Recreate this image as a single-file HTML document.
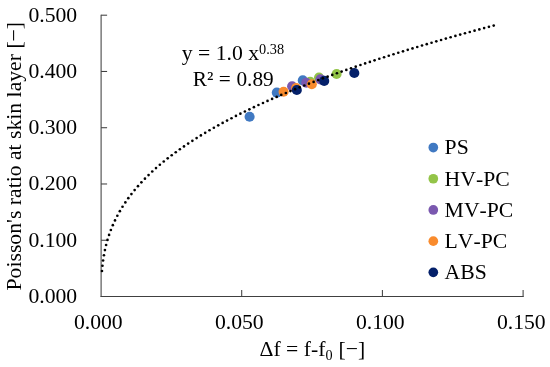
<!DOCTYPE html>
<html><head><meta charset="utf-8"><title>chart</title>
<style>html,body{margin:0;padding:0;background:#fff;}svg{display:block}text{font-kerning:none;font-family:"Liberation Serif", "Times New Roman", serif;font-size:21.70px;fill:#000}</style></head><body>
<svg width="550" height="367" viewBox="0 0 550 367">
<rect width="550" height="367" fill="#fff"/>
<g stroke="#404040" stroke-width="1.05" fill="none">
<path d="M101.10 14.7 V297.00"/>
<path d="M100.60 296.50 H523.75"/>
<path d="M101.10 240.24 h6.0"/>
<path d="M101.10 183.98 h6.0"/>
<path d="M101.10 127.72 h6.0"/>
<path d="M101.10 71.46 h6.0"/>
<path d="M101.10 15.20 h6.0"/>
<path d="M241.70 296.50 v-6.5"/>
<path d="M382.40 296.50 v-6.5"/>
<path d="M523.10 296.50 v-6.5"/>
</g>
<circle cx="249.6" cy="116.8" r="5.05" fill="#4079C2"/>
<circle cx="276.8" cy="92.6" r="5.05" fill="#4079C2"/>
<circle cx="302.8" cy="80.4" r="5.05" fill="#4079C2"/>
<circle cx="310.1" cy="81.7" r="5.05" fill="#93C448"/>
<circle cx="319.0" cy="77.6" r="5.05" fill="#93C448"/>
<circle cx="336.6" cy="74.0" r="5.05" fill="#93C448"/>
<circle cx="292.1" cy="86.2" r="5.05" fill="#7A58AF"/>
<circle cx="306.2" cy="82.8" r="5.05" fill="#7A58AF"/>
<circle cx="320.4" cy="79.4" r="5.05" fill="#7A58AF"/>
<circle cx="283.6" cy="91.8" r="5.05" fill="#F98B2D"/>
<circle cx="296.1" cy="88.1" r="5.05" fill="#F98B2D"/>
<circle cx="311.8" cy="84.3" r="5.05" fill="#F98B2D"/>
<circle cx="296.8" cy="90.0" r="5.05" fill="#04206A"/>
<circle cx="324.2" cy="80.9" r="5.05" fill="#04206A"/>
<circle cx="354.3" cy="73.0" r="5.05" fill="#04206A"/>
<g fill="#000"><circle cx="101.96" cy="271.00" r="1.33"/><circle cx="102.45" cy="265.74" r="1.33"/><circle cx="103.10" cy="260.50" r="1.33"/><circle cx="103.92" cy="255.29" r="1.33"/><circle cx="104.92" cy="250.11" r="1.33"/><circle cx="106.11" cy="244.99" r="1.33"/><circle cx="107.50" cy="239.91" r="1.33"/><circle cx="109.08" cy="234.91" r="1.33"/><circle cx="110.86" cy="229.98" r="1.33"/><circle cx="112.83" cy="225.13" r="1.33"/><circle cx="115.00" cy="220.38" r="1.33"/><circle cx="117.34" cy="215.72" r="1.33"/><circle cx="119.85" cy="211.17" r="1.33"/><circle cx="122.52" cy="206.73" r="1.33"/><circle cx="125.35" cy="202.40" r="1.33"/><circle cx="128.32" cy="198.17" r="1.33"/><circle cx="131.42" cy="194.06" r="1.33"/><circle cx="134.64" cy="190.05" r="1.33"/><circle cx="137.97" cy="186.15" r="1.33"/><circle cx="141.41" cy="182.35" r="1.33"/><circle cx="144.94" cy="178.65" r="1.33"/><circle cx="148.55" cy="175.05" r="1.33"/><circle cx="152.25" cy="171.54" r="1.33"/><circle cx="156.01" cy="168.12" r="1.33"/><circle cx="159.85" cy="164.79" r="1.33"/><circle cx="163.74" cy="161.54" r="1.33"/><circle cx="167.70" cy="158.36" r="1.33"/><circle cx="171.70" cy="155.27" r="1.33"/><circle cx="175.75" cy="152.24" r="1.33"/><circle cx="179.85" cy="149.29" r="1.33"/><circle cx="183.98" cy="146.40" r="1.33"/><circle cx="188.16" cy="143.57" r="1.33"/><circle cx="192.37" cy="140.80" r="1.33"/><circle cx="196.61" cy="138.10" r="1.33"/><circle cx="200.88" cy="135.44" r="1.33"/><circle cx="205.18" cy="132.84" r="1.33"/><circle cx="209.51" cy="130.29" r="1.33"/><circle cx="213.86" cy="127.79" r="1.33"/><circle cx="218.23" cy="125.33" r="1.33"/><circle cx="222.63" cy="122.92" r="1.33"/><circle cx="227.05" cy="120.55" r="1.33"/><circle cx="231.48" cy="118.23" r="1.33"/><circle cx="235.93" cy="115.94" r="1.33"/><circle cx="240.40" cy="113.69" r="1.33"/><circle cx="244.89" cy="111.47" r="1.33"/><circle cx="249.39" cy="109.30" r="1.33"/><circle cx="253.91" cy="107.15" r="1.33"/><circle cx="258.44" cy="105.04" r="1.33"/><circle cx="262.98" cy="102.96" r="1.33"/><circle cx="267.53" cy="100.91" r="1.33"/><circle cx="272.10" cy="98.89" r="1.33"/><circle cx="276.67" cy="96.90" r="1.33"/><circle cx="281.26" cy="94.94" r="1.33"/><circle cx="285.86" cy="93.00" r="1.33"/><circle cx="290.46" cy="91.09" r="1.33"/><circle cx="295.08" cy="89.20" r="1.33"/><circle cx="299.70" cy="87.34" r="1.33"/><circle cx="304.33" cy="85.50" r="1.33"/><circle cx="308.97" cy="83.69" r="1.33"/><circle cx="313.62" cy="81.89" r="1.33"/><circle cx="318.27" cy="80.12" r="1.33"/><circle cx="322.93" cy="78.37" r="1.33"/><circle cx="327.60" cy="76.64" r="1.33"/><circle cx="332.27" cy="74.93" r="1.33"/><circle cx="336.95" cy="73.23" r="1.33"/><circle cx="341.64" cy="71.56" r="1.33"/><circle cx="346.33" cy="69.91" r="1.33"/><circle cx="351.03" cy="68.27" r="1.33"/><circle cx="355.73" cy="66.65" r="1.33"/><circle cx="360.44" cy="65.04" r="1.33"/><circle cx="365.15" cy="63.45" r="1.33"/><circle cx="369.86" cy="61.88" r="1.33"/><circle cx="374.59" cy="60.33" r="1.33"/><circle cx="379.31" cy="58.79" r="1.33"/><circle cx="384.04" cy="57.26" r="1.33"/><circle cx="388.77" cy="55.75" r="1.33"/><circle cx="393.51" cy="54.25" r="1.33"/><circle cx="398.25" cy="52.77" r="1.33"/><circle cx="403.00" cy="51.30" r="1.33"/><circle cx="407.75" cy="49.84" r="1.33"/><circle cx="412.50" cy="48.39" r="1.33"/><circle cx="417.25" cy="46.96" r="1.33"/><circle cx="422.01" cy="45.54" r="1.33"/><circle cx="426.77" cy="44.14" r="1.33"/><circle cx="431.54" cy="42.74" r="1.33"/><circle cx="436.31" cy="41.36" r="1.33"/><circle cx="441.08" cy="39.98" r="1.33"/><circle cx="445.85" cy="38.62" r="1.33"/><circle cx="450.63" cy="37.27" r="1.33"/><circle cx="455.41" cy="35.93" r="1.33"/><circle cx="460.19" cy="34.60" r="1.33"/><circle cx="464.97" cy="33.28" r="1.33"/><circle cx="469.76" cy="31.97" r="1.33"/><circle cx="474.55" cy="30.68" r="1.33"/><circle cx="479.34" cy="29.39" r="1.33"/><circle cx="484.13" cy="28.11" r="1.33"/><circle cx="488.92" cy="26.83" r="1.33"/><circle cx="493.72" cy="25.57" r="1.33"/></g>
<text x="28.4" y="303.00">0.000</text>
<text x="28.4" y="246.74">0.100</text>
<text x="28.4" y="190.48">0.200</text>
<text x="28.4" y="134.22">0.300</text>
<text x="28.4" y="77.96">0.400</text>
<text x="28.4" y="21.70">0.500</text>
<text x="73.90" y="329">0.000</text>
<text x="214.90" y="329">0.050</text>
<text x="355.90" y="329">0.100</text>
<text x="496.90" y="329">0.150</text>
<text x="259.5" y="356.0">Δf = f-f<tspan font-size="14.2px" dy="4.2">0</tspan><tspan dy="-4.2" dx="0.6"> [−]</tspan></text>
<text transform="translate(21.0 156.2) rotate(-90)" text-anchor="middle">Poisson's ratio at skin layer [−]</text>
<text x="181.8" y="59.9">y = 1.0 x<tspan font-size="14.3px" dy="-6.2">0.38</tspan></text>
<text x="192.7" y="85.6" style="font-size:21.3px;word-spacing:0.25px">R² = 0.89</text>
<circle cx="433.3" cy="147.55" r="4.85" fill="#4079C2"/>
<text x="444.6" y="154.30">PS</text>
<circle cx="433.3" cy="178.75" r="4.85" fill="#93C448"/>
<text x="444.6" y="185.57">HV-PC</text>
<circle cx="433.3" cy="209.95" r="4.85" fill="#7A58AF"/>
<text x="444.6" y="216.84">MV-PC</text>
<circle cx="433.3" cy="241.15" r="4.85" fill="#F98B2D"/>
<text x="444.6" y="248.11">LV-PC</text>
<circle cx="433.3" cy="272.35" r="4.85" fill="#04206A"/>
<text x="444.6" y="279.38">ABS</text>
</svg></body></html>
